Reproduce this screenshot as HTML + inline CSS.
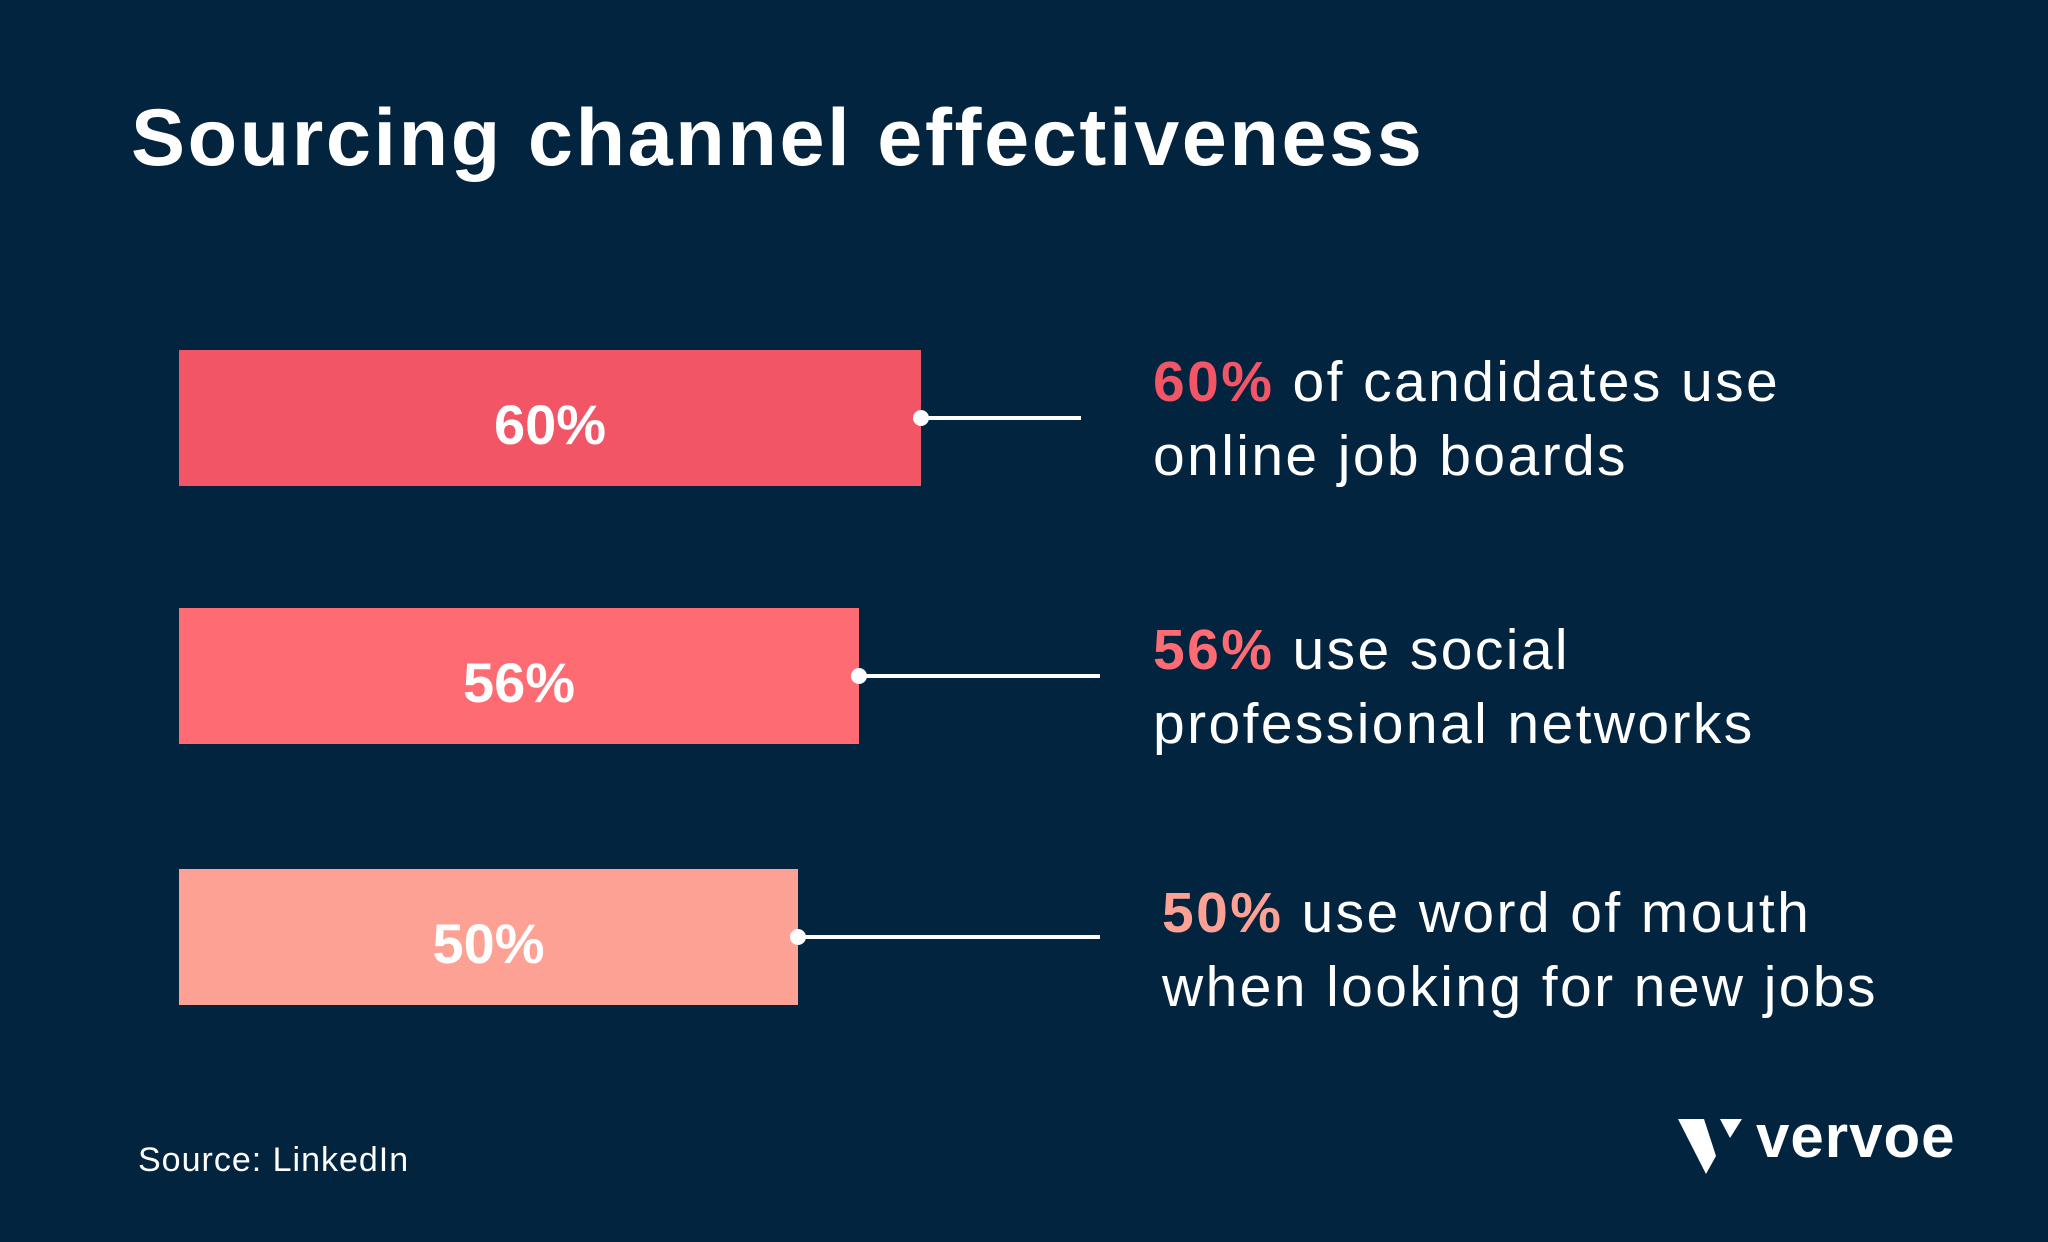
<!DOCTYPE html>
<html><head><meta charset="utf-8"><style>
html,body{margin:0;padding:0}
body{width:2048px;height:1242px;background:#03243f;position:relative;overflow:hidden;font-family:"Liberation Sans",sans-serif;color:#fff}
.a{position:absolute}
.bar{position:absolute;left:179px;height:136px;display:flex;align-items:center;justify-content:center;font-weight:bold;font-size:56px;color:#fff;padding-top:12px;box-sizing:border-box}
.ln{position:absolute;height:4px;background:#fff}
.dot{position:absolute;width:16px;height:16px;border-radius:50%;background:#fff}
.t{position:absolute;font-size:57px;line-height:74px;white-space:nowrap;letter-spacing:2.4px}
.t b{font-weight:bold}
</style></head><body>
<div class="a" style="left:131px;top:92px;font-size:81px;font-weight:bold;letter-spacing:2.6px">Sourcing channel effectiveness</div>

<div class="bar" style="top:350px;width:742px;background:#f25565">60%</div>
<div class="ln" style="left:921px;top:416px;width:160px"></div>
<div class="dot" style="left:913px;top:410px"></div>
<div class="t" style="left:1153px;top:345px"><b style="color:#f25565">60%</b> of candidates use<br>online job boards</div>

<div class="bar" style="top:608px;width:680px;background:#ff6b72">56%</div>
<div class="ln" style="left:859px;top:674px;width:241px"></div>
<div class="dot" style="left:851px;top:668px"></div>
<div class="t" style="left:1153px;top:613px"><b style="color:#ff6b72">56%</b> use social<br>professional networks</div>

<div class="bar" style="top:869px;width:619px;background:#fea195">50%</div>
<div class="ln" style="left:798px;top:935px;width:302px"></div>
<div class="dot" style="left:790px;top:929px"></div>
<div class="t" style="left:1162px;top:876px"><b style="color:#fea195">50%</b> use word of mouth<br>when looking for new jobs</div>

<div class="a" style="left:138px;top:1141px;font-size:34px;letter-spacing:1px">Source: LinkedIn</div>

<svg class="a" style="left:1676px;top:1116px" width="70" height="60" viewBox="0 0 70 60">
<polygon points="2,3 28,3 40,40 30,58" fill="#fff"/>
<polygon points="44,3 66,3 54,22" fill="#fff"/>
</svg>
<div class="a" style="left:1756px;top:1102px;font-size:60px;font-weight:bold;letter-spacing:1px">vervoe</div>
</body></html>
